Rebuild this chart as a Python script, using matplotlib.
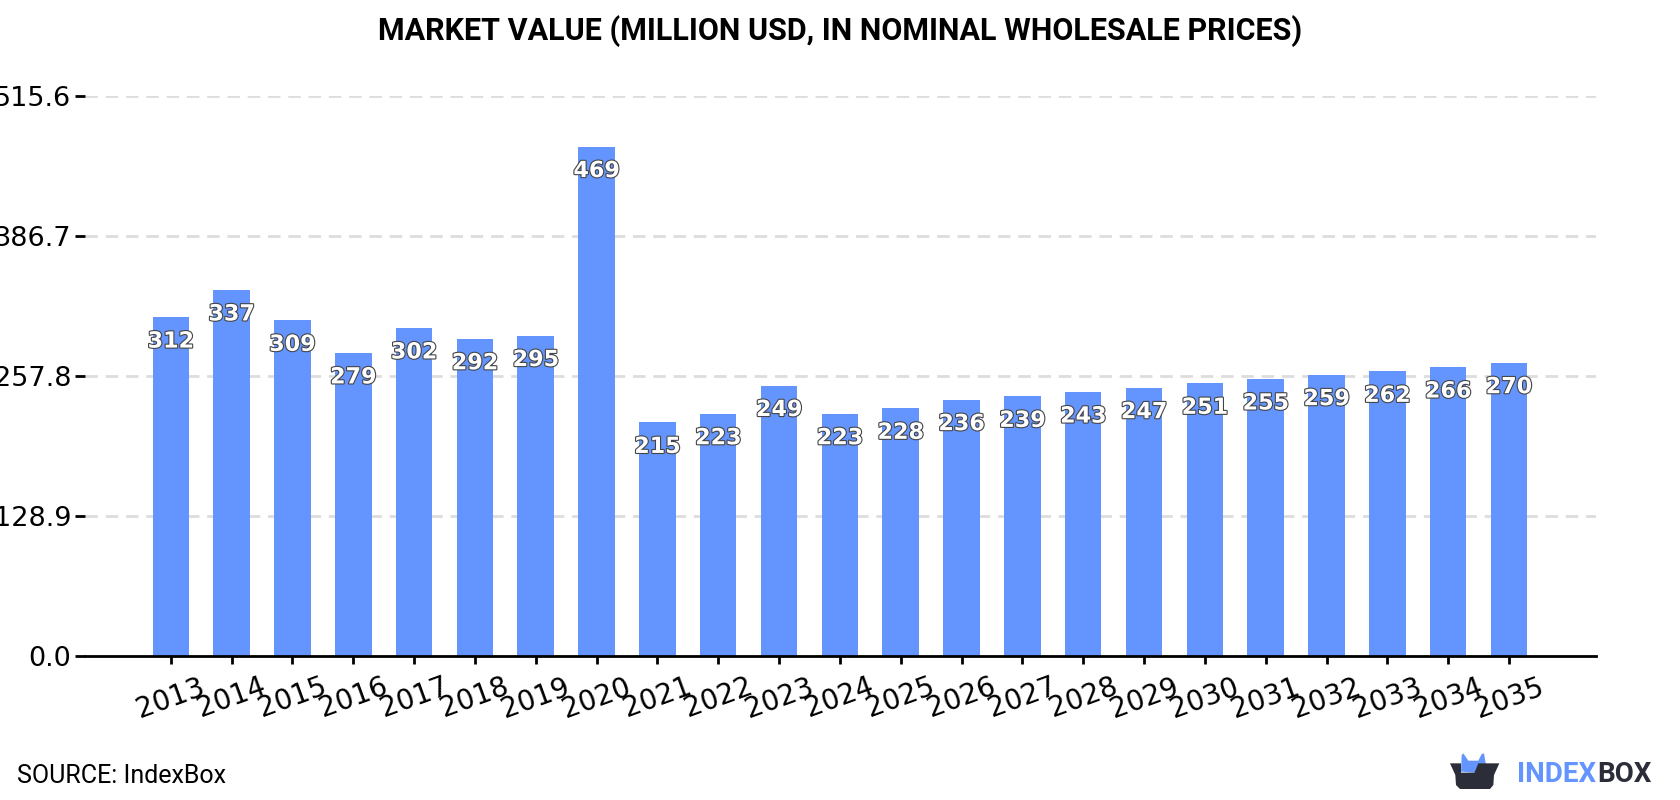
import matplotlib
matplotlib.use("Agg")
import matplotlib.pyplot as plt
import matplotlib.patheffects as pe
from matplotlib.patches import Polygon
from matplotlib.transforms import IdentityTransform

years = list(range(2013, 2036))
values = [312, 337, 309, 279, 302, 292, 295, 469, 215, 223, 249, 223,
          228, 236, 239, 243, 247, 251, 255, 259, 262, 266, 270]
y_ticks = [0.0, 128.9, 257.8, 386.7, 515.6]

BLUE = "#6495ff"
DARK = "#2b2d38"
W, H = 1680, 800

fig = plt.figure(figsize=(W / 100, H / 100), dpi=100)
ax = fig.add_axes([85 / W, 1 - 656 / H, (1596 - 85) / W, (656 - 96) / H])

ax.bar(range(len(years)), values, width=0.6, color=BLUE, zorder=2)
ax.set_xlim(-1.41, 23.43)
ax.set_ylim(0, 515.6)

ax.set_yticks(y_ticks, [f"{v:.1f}" for v in y_ticks])
ax.set_xticks(range(len(years)), years, rotation=20)
ax.tick_params(axis="y", labelsize=19.5, length=7, width=2, pad=3)
ax.tick_params(axis="x", labelsize=20, length=6, width=2, pad=6)
ax.grid(axis="y", color="#dddddd", linestyle=(0, (4.5, 2.8)), linewidth=2, zorder=1)
for s in ["top", "left", "right"]:
    ax.spines[s].set_visible(False)
ax.spines["bottom"].set_linewidth(2)
ax.spines["bottom"].set_zorder(3)

# white value labels with a thin dark outline, just under the top of each bar
for i, v in enumerate(values):
    ax.annotate(str(v), (i, v), xytext=(0, -17.6), textcoords="offset points",
                ha="center", va="center", color="white", fontsize=16,
                fontweight="bold", zorder=4,
                path_effects=[pe.withStroke(linewidth=1.6, foreground="#444444")])

fig.text(840 / W, 1 - 31 / H, "MARKET VALUE (MILLION USD, IN NOMINAL WHOLESALE PRICES)",
         family="Roboto", fontweight="bold", fontsize=22, ha="center", va="center")
fig.text(17 / W, 1 - 776 / H, "SOURCE: IndexBox", family="Roboto", fontsize=18,
         ha="left", va="center")


# logo, in pixels from the top left of the figure
def logo_shape(points, color):
    xy = [(1380 + x / 3, H - (720 + y / 3)) for x, y in points]
    fig.add_artist(Polygon(xy, closed=True, facecolor=color, edgecolor="none",
                           transform=IdentityTransform()))


logo_shape([(243, 155), (245, 105), (250, 100), (265, 122), (295, 122), (305, 102),
            (312, 100), (318, 135), (295, 135), (283, 158)], BLUE)
logo_shape([(210, 130), (243, 130), (243, 158), (283, 158), (295, 130), (358, 130),
            (342, 165), (340, 195), (330, 207), (240, 207), (228, 195), (226, 165)], DARK)

logo_kw = dict(family="Roboto", fontweight="bold", fontsize=20, va="center", ha="left")
fig.text(1517 / W, 1 - 774 / H, "INDEX", color=BLUE, **logo_kw)
fig.text(1597 / W, 1 - 774 / H, "BOX", color=DARK, **logo_kw)

fig.savefig("out.png", dpi=100)
